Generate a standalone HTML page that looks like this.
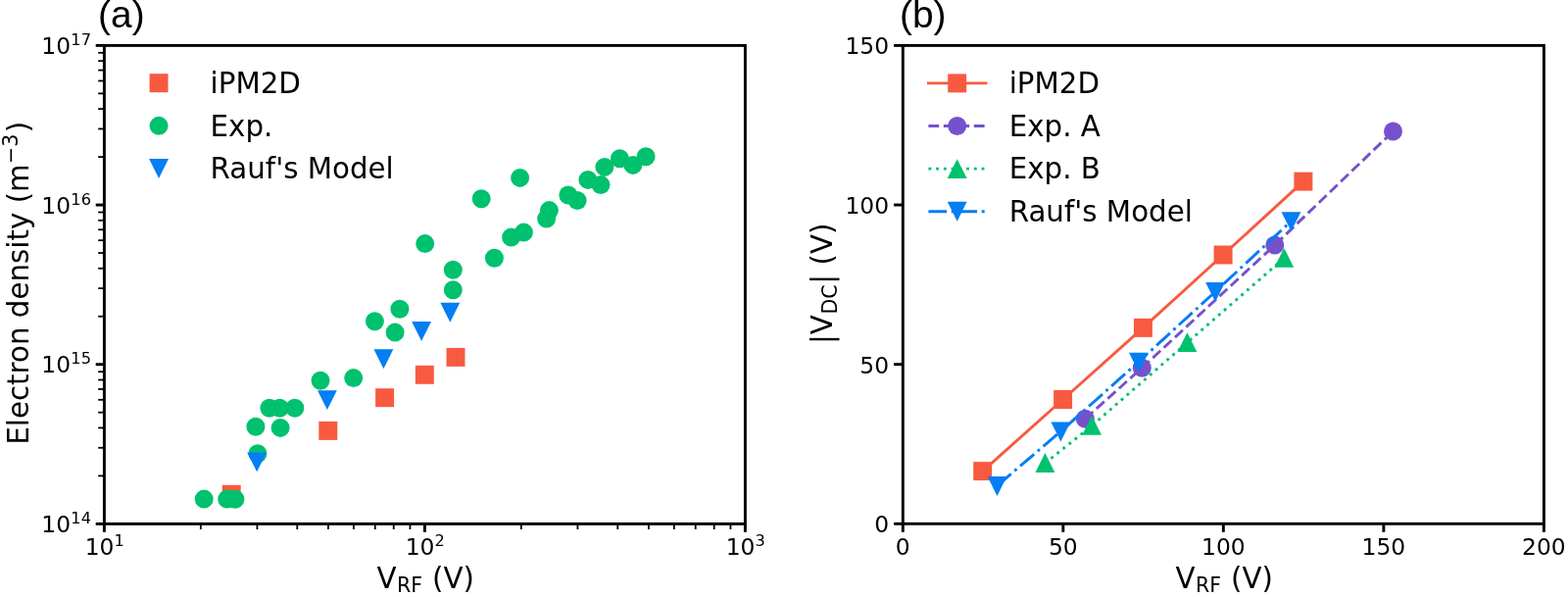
<!DOCTYPE html>
<html lang="en">
<head>
<meta charset="utf-8">
<title>Electron density and DC bias versus RF voltage</title>
<style>
html,body{margin:0;padding:0;background:#fff;}
body{width:1600px;height:609px;overflow:hidden;}
svg{display:block;}
text{fill:#000;}
</style>
</head>
<body>
<svg width="1600" height="609" viewBox="0 0 1600 609" role="img" aria-label="Electron density and DC bias versus RF voltage">
<rect width="1600" height="609" fill="#fff"/>
<g id="panel-a">
<g id="a-data">
<rect x="226.72" y="494.82" width="18.96" height="18.96" fill="#f85a40"/>
<rect x="325.32" y="429.92" width="18.96" height="18.96" fill="#f85a40"/>
<rect x="383.12" y="396.22" width="18.96" height="18.96" fill="#f85a40"/>
<rect x="423.82" y="372.82" width="18.96" height="18.96" fill="#f85a40"/>
<rect x="455.52" y="354.92" width="18.96" height="18.96" fill="#f85a40"/>
<circle cx="208.2" cy="509.1" r="9.48" fill="#00c16e"/>
<circle cx="231.7" cy="509.1" r="9.48" fill="#00c16e"/>
<circle cx="239.9" cy="509.3" r="9.48" fill="#00c16e"/>
<circle cx="262.9" cy="462.8" r="9.48" fill="#00c16e"/>
<circle cx="260.9" cy="435.2" r="9.48" fill="#00c16e"/>
<circle cx="286.1" cy="436.4" r="9.48" fill="#00c16e"/>
<circle cx="274.9" cy="416.2" r="9.48" fill="#00c16e"/>
<circle cx="285.4" cy="416.2" r="9.48" fill="#00c16e"/>
<circle cx="300.8" cy="416.2" r="9.48" fill="#00c16e"/>
<circle cx="327" cy="388.3" r="9.48" fill="#00c16e"/>
<circle cx="360.7" cy="385.6" r="9.48" fill="#00c16e"/>
<circle cx="382.4" cy="327.7" r="9.48" fill="#00c16e"/>
<circle cx="407.9" cy="315.2" r="9.48" fill="#00c16e"/>
<circle cx="403.1" cy="339.1" r="9.48" fill="#00c16e"/>
<circle cx="462.3" cy="275.2" r="9.48" fill="#00c16e"/>
<circle cx="462.3" cy="295.7" r="9.48" fill="#00c16e"/>
<circle cx="433.7" cy="248.6" r="9.48" fill="#00c16e"/>
<circle cx="491.2" cy="202.7" r="9.48" fill="#00c16e"/>
<circle cx="530.6" cy="181.4" r="9.48" fill="#00c16e"/>
<circle cx="504.4" cy="263.3" r="9.48" fill="#00c16e"/>
<circle cx="521.6" cy="242.1" r="9.48" fill="#00c16e"/>
<circle cx="534.4" cy="237.1" r="9.48" fill="#00c16e"/>
<circle cx="557.6" cy="223.1" r="9.48" fill="#00c16e"/>
<circle cx="560.4" cy="214.6" r="9.48" fill="#00c16e"/>
<circle cx="579.8" cy="199" r="9.48" fill="#00c16e"/>
<circle cx="589.1" cy="204.5" r="9.48" fill="#00c16e"/>
<circle cx="599.9" cy="183.4" r="9.48" fill="#00c16e"/>
<circle cx="613" cy="188.6" r="9.48" fill="#00c16e"/>
<circle cx="616.9" cy="170.4" r="9.48" fill="#00c16e"/>
<circle cx="632.4" cy="161.7" r="9.48" fill="#00c16e"/>
<circle cx="645.9" cy="168.4" r="9.48" fill="#00c16e"/>
<circle cx="659.1" cy="159.7" r="9.48" fill="#00c16e"/>
<path d="M252.17 461.47H272.03L262.1 481.33Z" fill="#037ef3"/>
<path d="M323.97 398.17H343.83L333.9 418.03Z" fill="#037ef3"/>
<path d="M381.47 356.27H401.33L391.4 376.13Z" fill="#037ef3"/>
<path d="M420.17 328.07H440.03L430.1 347.93Z" fill="#037ef3"/>
<path d="M449.37 308.77H469.23L459.3 328.63Z" fill="#037ef3"/>
</g>
<g id="a-ticks">
<path d="M106.4 534.4v8.4" stroke="#000" stroke-width="2.92" fill="none"/>
<path d="M433.4 534.4v8.4" stroke="#000" stroke-width="2.92" fill="none"/>
<path d="M760.4 534.4v8.4" stroke="#000" stroke-width="2.92" fill="none"/>
<path d="M204.84 534.4v5.6" stroke="#000" stroke-width="1.8" fill="none"/>
<path d="M262.42 534.4v5.6" stroke="#000" stroke-width="1.8" fill="none"/>
<path d="M303.27 534.4v5.6" stroke="#000" stroke-width="1.8" fill="none"/>
<path d="M334.96 534.4v5.6" stroke="#000" stroke-width="1.8" fill="none"/>
<path d="M360.86 534.4v5.6" stroke="#000" stroke-width="1.8" fill="none"/>
<path d="M382.75 534.4v5.6" stroke="#000" stroke-width="1.8" fill="none"/>
<path d="M401.71 534.4v5.6" stroke="#000" stroke-width="1.8" fill="none"/>
<path d="M418.44 534.4v5.6" stroke="#000" stroke-width="1.8" fill="none"/>
<path d="M531.84 534.4v5.6" stroke="#000" stroke-width="1.8" fill="none"/>
<path d="M589.42 534.4v5.6" stroke="#000" stroke-width="1.8" fill="none"/>
<path d="M630.27 534.4v5.6" stroke="#000" stroke-width="1.8" fill="none"/>
<path d="M661.96 534.4v5.6" stroke="#000" stroke-width="1.8" fill="none"/>
<path d="M687.86 534.4v5.6" stroke="#000" stroke-width="1.8" fill="none"/>
<path d="M709.75 534.4v5.6" stroke="#000" stroke-width="1.8" fill="none"/>
<path d="M728.71 534.4v5.6" stroke="#000" stroke-width="1.8" fill="none"/>
<path d="M745.44 534.4v5.6" stroke="#000" stroke-width="1.8" fill="none"/>
<path d="M106.4 534.4h-8.7" stroke="#000" stroke-width="2.92" fill="none"/>
<path d="M106.4 371.73h-8.7" stroke="#000" stroke-width="2.92" fill="none"/>
<path d="M106.4 209.07h-8.7" stroke="#000" stroke-width="2.92" fill="none"/>
<path d="M106.4 46.4h-8.7" stroke="#000" stroke-width="2.92" fill="none"/>
<path d="M106.4 485.43h-6.2" stroke="#000" stroke-width="1.8" fill="none"/>
<path d="M106.4 456.79h-6.2" stroke="#000" stroke-width="1.8" fill="none"/>
<path d="M106.4 436.46h-6.2" stroke="#000" stroke-width="1.8" fill="none"/>
<path d="M106.4 420.7h-6.2" stroke="#000" stroke-width="1.8" fill="none"/>
<path d="M106.4 407.82h-6.2" stroke="#000" stroke-width="1.8" fill="none"/>
<path d="M106.4 396.93h-6.2" stroke="#000" stroke-width="1.8" fill="none"/>
<path d="M106.4 387.5h-6.2" stroke="#000" stroke-width="1.8" fill="none"/>
<path d="M106.4 379.18h-6.2" stroke="#000" stroke-width="1.8" fill="none"/>
<path d="M106.4 322.77h-6.2" stroke="#000" stroke-width="1.8" fill="none"/>
<path d="M106.4 294.12h-6.2" stroke="#000" stroke-width="1.8" fill="none"/>
<path d="M106.4 273.8h-6.2" stroke="#000" stroke-width="1.8" fill="none"/>
<path d="M106.4 258.03h-6.2" stroke="#000" stroke-width="1.8" fill="none"/>
<path d="M106.4 245.15h-6.2" stroke="#000" stroke-width="1.8" fill="none"/>
<path d="M106.4 234.26h-6.2" stroke="#000" stroke-width="1.8" fill="none"/>
<path d="M106.4 224.83h-6.2" stroke="#000" stroke-width="1.8" fill="none"/>
<path d="M106.4 216.51h-6.2" stroke="#000" stroke-width="1.8" fill="none"/>
<path d="M106.4 160.1h-6.2" stroke="#000" stroke-width="1.8" fill="none"/>
<path d="M106.4 131.45h-6.2" stroke="#000" stroke-width="1.8" fill="none"/>
<path d="M106.4 111.13h-6.2" stroke="#000" stroke-width="1.8" fill="none"/>
<path d="M106.4 95.37h-6.2" stroke="#000" stroke-width="1.8" fill="none"/>
<path d="M106.4 82.49h-6.2" stroke="#000" stroke-width="1.8" fill="none"/>
<path d="M106.4 71.6h-6.2" stroke="#000" stroke-width="1.8" fill="none"/>
<path d="M106.4 62.16h-6.2" stroke="#000" stroke-width="1.8" fill="none"/>
<path d="M106.4 53.84h-6.2" stroke="#000" stroke-width="1.8" fill="none"/>
</g>
<rect x="106.4" y="46.4" width="654" height="488" fill="none" stroke="#000" stroke-width="2.92"/>
<text transform="translate(106.8 566) scale(1.0 1.02)" font-size="23.4" text-anchor="middle" font-family="'DejaVu Sans', 'Liberation Sans', sans-serif">10<tspan font-size="16.2" dy="-9" dx="0.2">1</tspan></text>
<text transform="translate(433.8 566) scale(1.0 1.02)" font-size="23.4" text-anchor="middle" font-family="'DejaVu Sans', 'Liberation Sans', sans-serif">10<tspan font-size="16.2" dy="-9" dx="0.2">2</tspan></text>
<text transform="translate(760.8 566) scale(1.0 1.02)" font-size="23.4" text-anchor="middle" font-family="'DejaVu Sans', 'Liberation Sans', sans-serif">10<tspan font-size="16.2" dy="-9" dx="0.2">3</tspan></text>
<text transform="translate(92.95 543) scale(1.0 1.02)" font-size="23.4" text-anchor="end" font-family="'DejaVu Sans', 'Liberation Sans', sans-serif">10<tspan font-size="16.2" dy="-9" dx="0.3">14</tspan></text>
<text transform="translate(92.95 380) scale(1.0 1.02)" font-size="23.4" text-anchor="end" font-family="'DejaVu Sans', 'Liberation Sans', sans-serif">10<tspan font-size="16.2" dy="-9" dx="0.3">15</tspan></text>
<text transform="translate(92.95 218) scale(1.0 1.02)" font-size="23.4" text-anchor="end" font-family="'DejaVu Sans', 'Liberation Sans', sans-serif">10<tspan font-size="16.2" dy="-9" dx="0.3">16</tspan></text>
<text transform="translate(92.95 55) scale(1.0 1.02)" font-size="23.4" text-anchor="end" font-family="'DejaVu Sans', 'Liberation Sans', sans-serif">10<tspan font-size="16.2" dy="-9" dx="0.3">17</tspan></text>
<text transform="translate(434.2 600) scale(1.0 1.03)" font-size="29.3" text-anchor="middle" font-family="'DejaVu Sans', 'Liberation Sans', sans-serif">V<tspan font-size="20.51" dy="4.3" dx="0.5">RF</tspan><tspan font-size="29.3" dy="-4.3" dx="0.6"> (V)</tspan></text>
<text transform="translate(29 288.8) rotate(-90) scale(1.001 1.01)" font-size="29.3" text-anchor="middle" font-family="'DejaVu Sans', 'Liberation Sans', sans-serif">Electron density (m<tspan font-size="20.51" dy="-11" dx="0.3">−3</tspan><tspan font-size="29.3" dy="11.0" dx="1.5">)</tspan></text>
<text transform="translate(100.1 28)" font-size="38.9" text-anchor="start" font-family="'Liberation Sans', 'DejaVu Sans', sans-serif">(a)</text>
<rect x="152.57" y="75.22" width="18.96" height="18.96" fill="#f85a40"/>
<circle cx="162.05" cy="128.35" r="9.48" fill="#00c16e"/>
<path d="M152.12 162.02H171.98L162.05 181.88Z" fill="#037ef3"/>
<text transform="translate(214.6 95) scale(1.0 1.015)" font-size="29.3" text-anchor="start" font-family="'DejaVu Sans', 'Liberation Sans', sans-serif">iPM2D</text>
<text transform="translate(214.6 139) scale(1.0 1.015)" font-size="29.3" text-anchor="start" font-family="'DejaVu Sans', 'Liberation Sans', sans-serif">Exp.</text>
<text transform="translate(214.6 182) scale(1.0 1.015)" font-size="29.3" text-anchor="start" font-family="'DejaVu Sans', 'Liberation Sans', sans-serif">Rauf's Model</text>
</g>
<g id="panel-b">
<g id="b-data">
<path d="M1002.7 480.6L1084.6 407.5L1166.4 334.4L1248.1 260L1329.9 185.1" fill="none" stroke="#f85a40" stroke-width="2.92" stroke-linejoin="round" stroke-linecap="square"/>
<rect x="993.22" y="471.12" width="18.96" height="18.96" fill="#f85a40"/>
<rect x="1075.12" y="398.02" width="18.96" height="18.96" fill="#f85a40"/>
<rect x="1156.92" y="324.92" width="18.96" height="18.96" fill="#f85a40"/>
<rect x="1238.62" y="250.52" width="18.96" height="18.96" fill="#f85a40"/>
<rect x="1320.42" y="175.62" width="18.96" height="18.96" fill="#f85a40"/>
<path d="M1107.3 427.2L1165.3 375.2L1300.8 250L1421.5 134" fill="none" stroke="#7552cc" stroke-width="2.92" stroke-linejoin="round" stroke-dasharray="10.8 4.67"/>
<circle cx="1107.3" cy="427.2" r="9.48" fill="#7552cc"/>
<circle cx="1165.3" cy="375.2" r="9.48" fill="#7552cc"/>
<circle cx="1300.8" cy="250" r="9.48" fill="#7552cc"/>
<circle cx="1421.5" cy="134" r="9.48" fill="#7552cc"/>
<path d="M1066.4 472.45L1114.1 434.35L1211.4 349.55L1310.3 263.35" fill="none" stroke="#00c16e" stroke-width="2.92" stroke-linejoin="round" stroke-dasharray="2.92 4.82"/>
<path d="M1056.47 481.93H1076.33L1066.4 462.07Z" fill="#00c16e"/>
<path d="M1104.17 443.83H1124.03L1114.1 423.97Z" fill="#00c16e"/>
<path d="M1201.47 359.03H1221.33L1211.4 339.17Z" fill="#00c16e"/>
<path d="M1300.37 272.83H1320.23L1310.3 252.97Z" fill="#00c16e"/>
<path d="M1017.5 495.55L1082.4 440.05L1161.9 369.15L1240.1 297.55L1317.5 225.65" fill="none" stroke="#037ef3" stroke-width="2.92" stroke-linejoin="round" stroke-dasharray="18.69 4.67 2.92 4.67"/>
<path d="M1007.57 486.07H1027.43L1017.5 505.93Z" fill="#037ef3"/>
<path d="M1072.47 430.57H1092.33L1082.4 450.43Z" fill="#037ef3"/>
<path d="M1151.97 359.67H1171.83L1161.9 379.53Z" fill="#037ef3"/>
<path d="M1230.17 288.07H1250.03L1240.1 307.93Z" fill="#037ef3"/>
<path d="M1307.57 216.17H1327.43L1317.5 236.03Z" fill="#037ef3"/>
</g>
<g id="b-ticks">
<path d="M921.3 534.3v8.5" stroke="#000" stroke-width="2.92" fill="none"/>
<path d="M1084.83 534.3v8.5" stroke="#000" stroke-width="2.92" fill="none"/>
<path d="M1248.35 534.3v8.5" stroke="#000" stroke-width="2.92" fill="none"/>
<path d="M1411.88 534.3v8.5" stroke="#000" stroke-width="2.92" fill="none"/>
<path d="M1575.4 534.3v8.5" stroke="#000" stroke-width="2.92" fill="none"/>
<path d="M921.3 534.3h-9.2" stroke="#000" stroke-width="2.92" fill="none"/>
<path d="M921.3 371.67h-9.2" stroke="#000" stroke-width="2.92" fill="none"/>
<path d="M921.3 209.03h-9.2" stroke="#000" stroke-width="2.92" fill="none"/>
<path d="M921.3 46.4h-9.2" stroke="#000" stroke-width="2.92" fill="none"/>
</g>
<rect x="921.3" y="46.4" width="654.1" height="487.9" fill="none" stroke="#000" stroke-width="2.92"/>
<text transform="translate(921.3 566) scale(1.0 1.02)" font-size="23.4" text-anchor="middle" font-family="'DejaVu Sans', 'Liberation Sans', sans-serif">0</text>
<text transform="translate(1084.83 566) scale(1.0 1.02)" font-size="23.4" text-anchor="middle" font-family="'DejaVu Sans', 'Liberation Sans', sans-serif">50</text>
<text transform="translate(1248.35 566) scale(1.0 1.02)" font-size="23.4" text-anchor="middle" font-family="'DejaVu Sans', 'Liberation Sans', sans-serif">100</text>
<text transform="translate(1411.88 566) scale(1.0 1.02)" font-size="23.4" text-anchor="middle" font-family="'DejaVu Sans', 'Liberation Sans', sans-serif">150</text>
<text transform="translate(1575.4 566) scale(1.0 1.02)" font-size="23.4" text-anchor="middle" font-family="'DejaVu Sans', 'Liberation Sans', sans-serif">200</text>
<text transform="translate(907.1 543) scale(1.0 1.02)" font-size="23.4" text-anchor="end" font-family="'DejaVu Sans', 'Liberation Sans', sans-serif">0</text>
<text transform="translate(907.1 381) scale(1.0 1.02)" font-size="23.4" text-anchor="end" font-family="'DejaVu Sans', 'Liberation Sans', sans-serif">50</text>
<text transform="translate(907.1 218) scale(1.0 1.02)" font-size="23.4" text-anchor="end" font-family="'DejaVu Sans', 'Liberation Sans', sans-serif">100</text>
<text transform="translate(907.1 55) scale(1.0 1.02)" font-size="23.4" text-anchor="end" font-family="'DejaVu Sans', 'Liberation Sans', sans-serif">150</text>
<text transform="translate(1249.15 600) scale(1.0 1.03)" font-size="29.3" text-anchor="middle" font-family="'DejaVu Sans', 'Liberation Sans', sans-serif">V<tspan font-size="20.51" dy="4.3" dx="0.5">RF</tspan><tspan font-size="29.3" dy="-4.3" dx="0.6"> (V)</tspan></text>
<text transform="translate(849 289.3) rotate(-90) scale(1.0 1.03)" font-size="29.3" text-anchor="middle" font-family="'DejaVu Sans', 'Liberation Sans', sans-serif">|V<tspan font-size="20.51" dy="4.6" dx="0.5">DC</tspan><tspan font-size="29.3" dy="-4.6" dx="0.9">| (V)</tspan></text>
<text transform="translate(918 28)" font-size="38.9" text-anchor="start" font-family="'Liberation Sans', 'DejaVu Sans', sans-serif">(b)</text>
<path d="M947.4 84.9H1006" fill="none" stroke="#f85a40" stroke-width="2.92" stroke-linecap="square"/>
<rect x="967.22" y="75.42" width="18.96" height="18.96" fill="#f85a40"/>
<path d="M947.4 128.5H1006" fill="none" stroke="#7552cc" stroke-width="2.92" stroke-dasharray="10.8 4.67"/>
<circle cx="976.7" cy="128.5" r="9.48" fill="#7552cc"/>
<path d="M947.4 172.1H1006" fill="none" stroke="#00c16e" stroke-width="2.92" stroke-dasharray="2.92 4.82"/>
<path d="M966.77 182.03H986.63L976.7 162.17Z" fill="#00c16e"/>
<path d="M947.4 215.7H1006" fill="none" stroke="#037ef3" stroke-width="2.92" stroke-dasharray="18.69 4.67 2.92 4.67"/>
<path d="M966.77 205.77H986.63L976.7 225.63Z" fill="#037ef3"/>
<text transform="translate(1029.7 95) scale(1.0 1.015)" font-size="29.3" text-anchor="start" font-family="'DejaVu Sans', 'Liberation Sans', sans-serif">iPM2D</text>
<text transform="translate(1029.7 139) scale(1.0 1.015)" font-size="29.3" text-anchor="start" font-family="'DejaVu Sans', 'Liberation Sans', sans-serif">Exp. A</text>
<text transform="translate(1029.7 182) scale(1.0 1.015)" font-size="29.3" text-anchor="start" font-family="'DejaVu Sans', 'Liberation Sans', sans-serif">Exp. B</text>
<text transform="translate(1029.7 226) scale(1.0 1.015)" font-size="29.3" text-anchor="start" font-family="'DejaVu Sans', 'Liberation Sans', sans-serif">Rauf's Model</text>
</g>
</svg>
</body>
</html>
